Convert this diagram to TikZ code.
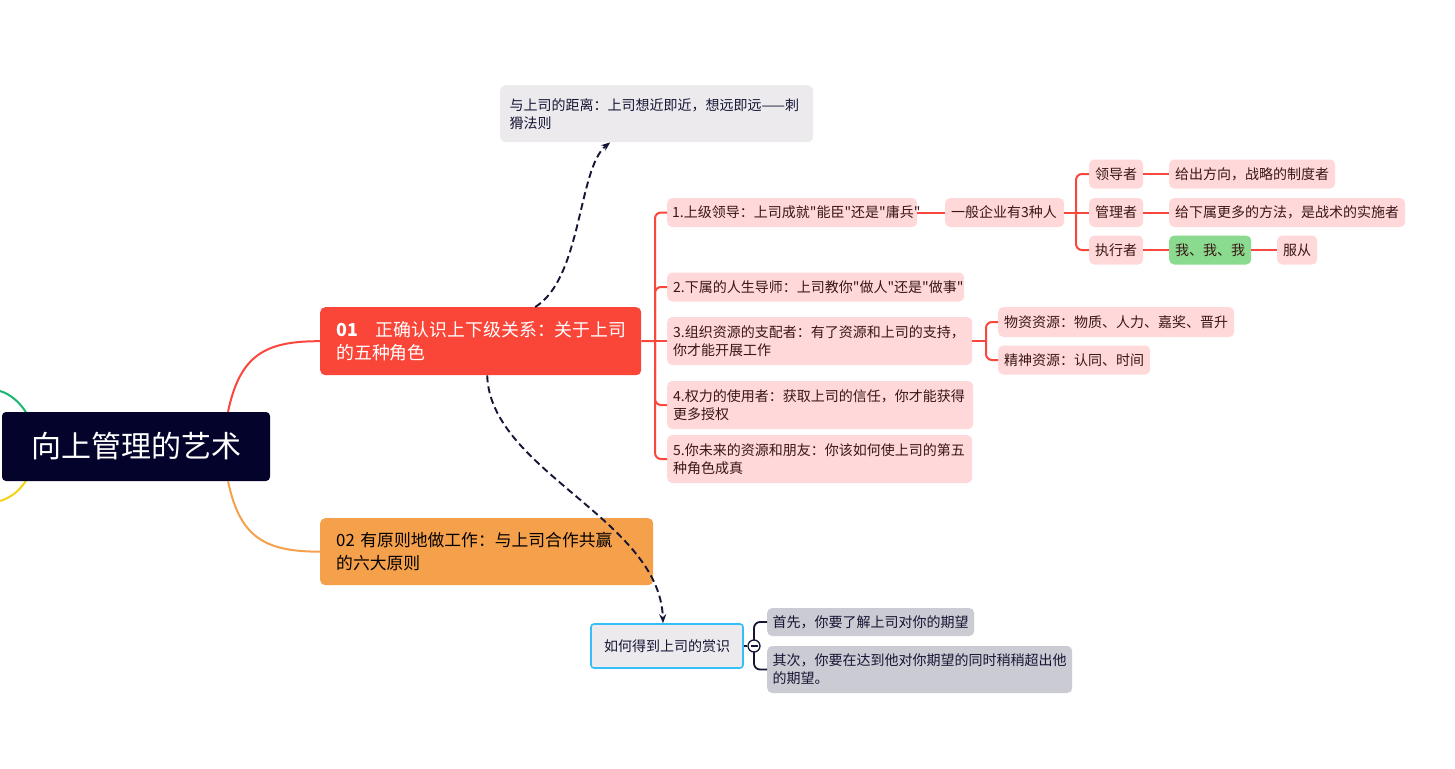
\documentclass[tikz,border=0pt]{standalone}
\usepackage{fontspec}
\setmainfont{Noto Sans CJK SC}[Ligatures=TeXOff]
\usetikzlibrary{arrows.meta}
\definecolor{rootbg}{HTML}{03032B}
\definecolor{redb}{HTML}{FA4539}
\definecolor{orangeb}{HTML}{F5A04B}
\definecolor{pinkb}{HTML}{FFD9D9}
\definecolor{pinktx}{HTML}{3A1616}
\definecolor{redline}{HTML}{F9473D}
\definecolor{greenb}{HTML}{8ADB8F}
\definecolor{grayf}{HTML}{ECEAED}
\definecolor{grays}{HTML}{CBCBD3}
\definecolor{bluebd}{HTML}{34BFF7}
\definecolor{dashc}{HTML}{151535}
\definecolor{greenl}{HTML}{18B86E}
\definecolor{yellowl}{HTML}{F5D216}
\definecolor{orangel}{HTML}{F5A04B}
\tikzset{
  pinkbox/.style={fill=pinkb, rounded corners=5pt, anchor=west, inner xsep=6pt, inner ysep=2pt,
    align=left, text=pinktx, font=\fontsize{14}{18}\selectfont},
  graybox/.style={fill=grays, rounded corners=5pt, anchor=west, inner xsep=6pt, inner ysep=2pt,
    align=left, text=dashc, font=\fontsize{14}{18}\selectfont},
  redconn/.style={draw=redline, line width=2pt},
  darkconn/.style={draw=dashc, line width=1.8pt},
  dasharrow/.style={draw=dashc, line width=1.9pt, dash pattern=on 7pt off 4pt,
    -{Stealth[length=9pt,width=7pt]}},
}
\begin{document}
\begin{tikzpicture}[x=1pt,y=-1pt]
\useasboundingbox (0,0) rectangle (1455,768);
\fill[white] (0,0) rectangle (1455,768);

% left partial branches
\coordinate (gl) at (0,391);
\coordinate (yl) at (0,501);
\coordinate (rs) at (27,414);
\coordinate (ys) at (27,479);
\draw[greenl, line width=2pt] (rs) .. controls (20,402) and (10,394) .. (gl);
\draw[yellowl, line width=2pt] (ys) .. controls (20,491) and (10,498) .. (yl);

% root
\node[fill=rootbg, rounded corners=4pt, minimum width=268, minimum height=69, text=white,
  font=\fontsize{30}{34}\selectfont, inner sep=0pt] (root) at (136,446.5) {向上管理的艺术};

% main branches
\node[fill=redb, rounded corners=5pt, anchor=north west, minimum height=68, text width=289pt,
  inner xsep=16pt, align=left, text=white, font=\fontsize{17.9}{22.5}\selectfont] (b01) at (320,307)
  {\mbox{{\bfseries 01}\hspace{1em}正确认识上下级关系：关于上司}\\的五种角色};
\node[fill=orangeb, rounded corners=5pt, anchor=north west, minimum height=67, text width=301pt,
  inner xsep=16pt, align=left, text=black, font=\fontsize{16.8}{22.5}\selectfont] (b02) at (320,518)
  {\mbox{02 有原则地做工作：与上司合作共赢}\\的六大原则};

\draw[redline, line width=2pt] ([xshift=92pt]root.north) .. controls (240,355) and (265,341) .. (b01.west);
\draw[orangel, line width=2pt] ([xshift=92pt]root.south) .. controls (240,538) and (265,551.5) .. (b02.west);

% floating topic
\node[fill=grayf, rounded corners=6pt, anchor=north west, minimum height=57, text width=294pt,
  inner xsep=9.5pt, align=left, text=dashc, font=\fontsize{14}{18}\selectfont] (f) at (500,85)
  {与上司的距离：上司想近即近，想远即远——刺\\猾法则};

% children of 01
\node[pinkbox, minimum height=29, text width=240pt, inner xsep=5pt] (c1) at (667,212.5) {1.上级领导：上司成就"能臣"还是"庸兵"};
\node[pinkbox, minimum height=29, text width=285pt] (c2) at (667,287) {2.下属的人生导师：上司教你"做人"还是"做事"};
\node[pinkbox, minimum height=48, text width=293pt] (c3) at (667,341) {3.组织资源的支配者：有了资源和上司的支持，\\你才能开展工作};
\node[pinkbox, minimum height=48, text width=294pt] (c4) at (667,405) {4.权力的使用者：获取上司的信任，你才能获得\\更多授权};
\node[pinkbox, minimum height=48, text width=293pt] (c5) at (667,459) {5.你未来的资源和朋友：你该如何使上司的第五\\种角色成真};

\coordinate (j1) at (655,341);
\draw[redconn] (b01.east) -- (j1);
\foreach \c in {c1,c2,c4,c5} \draw[redconn, rounded corners=6pt] (j1) |- (\c.west);
\draw[redconn] (j1) -- (c3.west);

% level 3
\node[pinkbox, minimum height=29, text width=107pt] (g) at (945,212.5) {一般企业有3种人};
\draw[redconn] (c1.east) -- (g.west);
\node[pinkbox, minimum height=29, text width=42pt] (r1) at (1089,174) {领导者};
\node[pinkbox, minimum height=29, text width=42pt] (r2) at (1089,212.5) {管理者};
\node[pinkbox, minimum height=29, text width=42pt] (r3) at (1089,250) {执行者};
\coordinate (j2) at (1076,212.5);
\draw[redconn] (g.east) -- (j2);
\draw[redconn, rounded corners=6pt] (j2) |- (r1.west);
\draw[redconn, rounded corners=6pt] (j2) |- (r3.west);
\draw[redconn] (j2) -- (r2.west);

\node[pinkbox, minimum height=29, text width=154pt] (d1) at (1169,174) {给出方向，战略的制度者};
\node[pinkbox, minimum height=29, text width=224pt] (d2) at (1169,212.5) {给下属更多的方法，是战术的实施者};
\node[pinkbox, fill=greenb, minimum height=29, text width=70pt] (d3) at (1169,250) {我、我、我};
\node[pinkbox, minimum height=29, text width=28pt] (d4) at (1277,250) {服从};
\draw[redconn] (r1.east) -- (d1.west);
\draw[redconn] (r2.east) -- (d2.west);
\draw[redconn] (r3.east) -- (d3.west);
\draw[redconn] (d3.east) -- (d4.west);

\node[pinkbox, minimum height=30, text width=224pt] (m1) at (998,322) {物资资源：物质、人力、嘉奖、晋升};
\node[pinkbox, minimum height=29, text width=140pt] (m2) at (998,360) {精神资源：认同、时间};
\coordinate (j3) at (986,341);
\draw[redconn] (c3.east) -- (j3);
\draw[redconn, rounded corners=6pt] (j3) |- (m1.west);
\draw[redconn, rounded corners=6pt] (j3) |- (m2.west);

% appreciation topic
\node[fill=grayf, draw=bluebd, line width=1.6pt, rounded corners=3pt, minimum width=152, minimum height=44,
  text=dashc, font=\fontsize{14}{18}\selectfont, inner sep=0pt] (q) at (667,646) {如何得到上司的赏识};
\node[graybox, minimum height=28, text width=196pt, inner xsep=5.5pt] (s1) at (767,622) {首先，你要了解上司对你的期望};
\node[graybox, minimum height=47, text width=294pt, inner xsep=5.5pt] (s2) at (767,669.5) {其次，你要在达到他对你期望的同时稍稍超出他\\的期望。};
\coordinate (cj) at (754,646);
\draw[darkconn, rounded corners=6pt] (cj) |- (s1.west);
\draw[darkconn, rounded corners=6pt] (cj) |- (s2.west);
\node[circle, draw=dashc, fill=white, line width=1.3pt, minimum size=12, inner sep=0pt] (cc) at (cj) {};
\draw[darkconn] (q.east) -- (cc.west);
\draw[dashc, line width=1.2pt] ([xshift=-3.5pt]cc.center) -- ([xshift=3.5pt]cc.center);

% dashed relation arrows
\draw[dasharrow] ([xshift=54.5pt]b01.north) .. controls (582,278) and (578,168) .. ([xshift=-46.5pt]f.south);
\draw[dasharrow] ([xshift=6.5pt]b01.south) .. controls (490,470) and (660,520) .. ([xshift=-4pt]q.north);
\end{tikzpicture}
\end{document}
